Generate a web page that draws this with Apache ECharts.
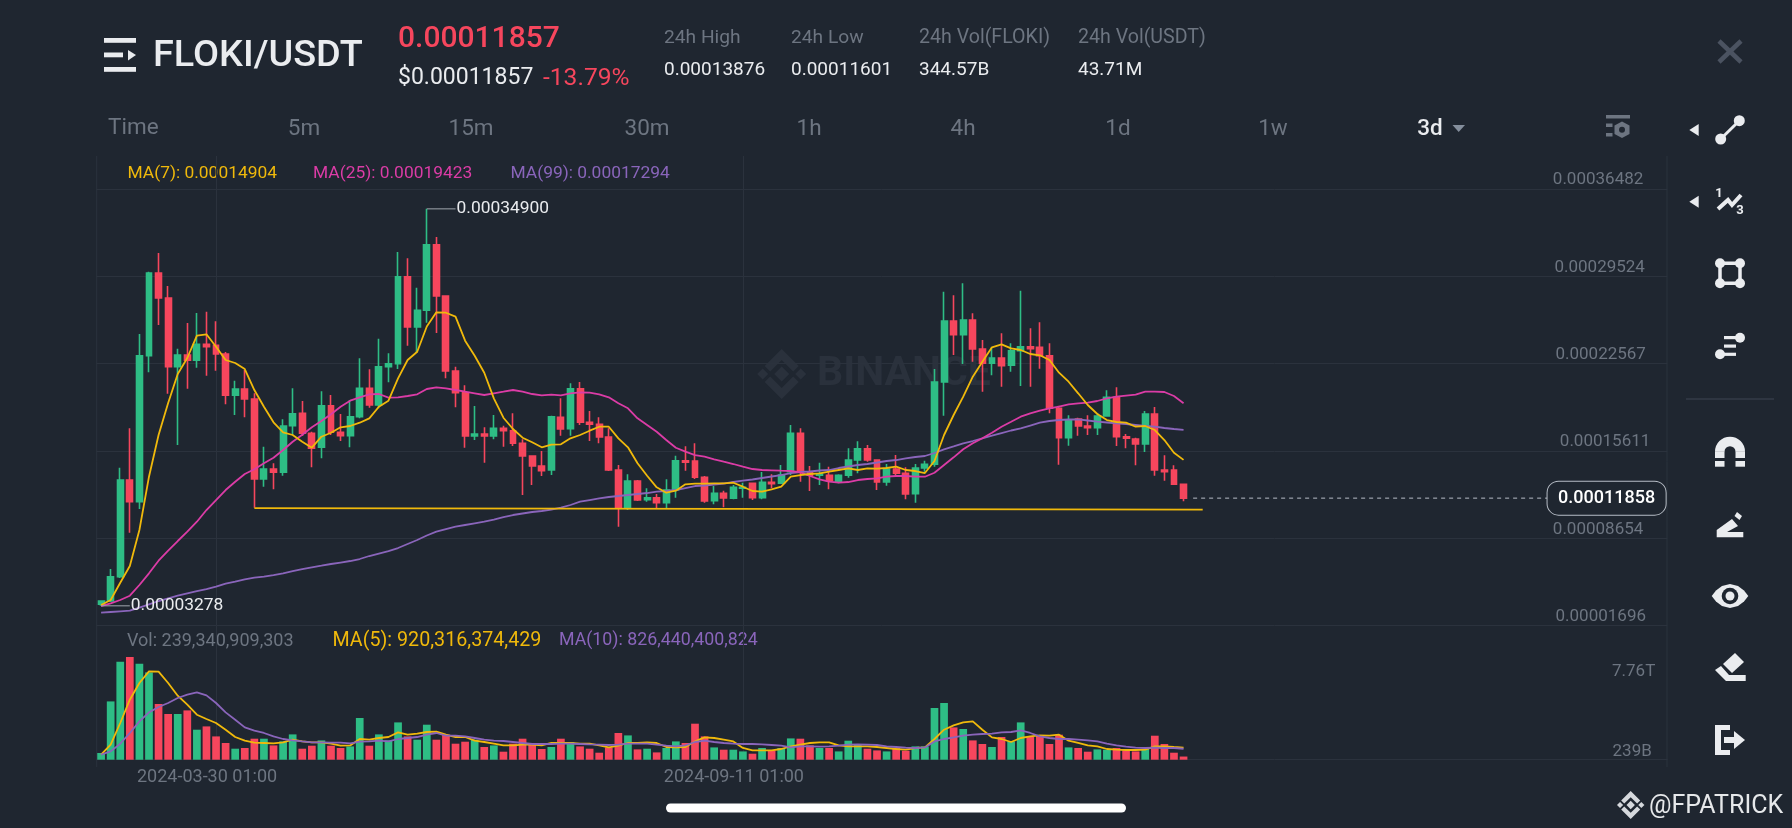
<!DOCTYPE html>
<html><head><meta charset="utf-8"><title>FLOKI/USDT</title>
<style>html,body{margin:0;padding:0;background:#1f2630}#c{width:1792px;height:828px}</style>
<script src="https://cdn.jsdelivr.net/npm/echarts@6/dist/echarts.min.js"></script></head>
<body><div id="c"></div>
<script>
// prices are in units of 1e-8 USDT, volumes in billions
const categories=['2024-02-23','2024-02-26','2024-02-29','2024-03-03','2024-03-06','2024-03-09','2024-03-12','2024-03-15','2024-03-18','2024-03-21','2024-03-24','2024-03-27','2024-03-30','2024-04-02','2024-04-05','2024-04-08','2024-04-11','2024-04-14','2024-04-17','2024-04-20','2024-04-23','2024-04-26','2024-04-29','2024-05-02','2024-05-05','2024-05-08','2024-05-11','2024-05-14','2024-05-17','2024-05-20','2024-05-23','2024-05-26','2024-05-29','2024-06-01','2024-06-04','2024-06-07','2024-06-10','2024-06-13','2024-06-16','2024-06-19','2024-06-22','2024-06-25','2024-06-28','2024-07-01','2024-07-04','2024-07-07','2024-07-10','2024-07-13','2024-07-16','2024-07-19','2024-07-22','2024-07-25','2024-07-28','2024-07-31','2024-08-03','2024-08-06','2024-08-09','2024-08-12','2024-08-15','2024-08-18','2024-08-21','2024-08-24','2024-08-27','2024-08-30','2024-09-02','2024-09-05','2024-09-08','2024-09-11','2024-09-14','2024-09-17','2024-09-20','2024-09-23','2024-09-26','2024-09-29','2024-10-02','2024-10-05','2024-10-08','2024-10-11','2024-10-14','2024-10-17','2024-10-20','2024-10-23','2024-10-26','2024-10-29','2024-11-01','2024-11-04','2024-11-07','2024-11-10','2024-11-13','2024-11-16','2024-11-19','2024-11-22','2024-11-25','2024-11-28','2024-12-01','2024-12-04','2024-12-07','2024-12-10','2024-12-13','2024-12-16','2024-12-19','2024-12-22','2024-12-25','2024-12-28','2024-12-31','2025-01-03','2025-01-06','2025-01-09','2025-01-12','2025-01-15','2025-01-18','2025-01-21','2025-01-24','2025-01-27'];
const opens=[3399,3662,5598,13301,11573,23203,29791,27799,22326,23259,
22836,24110,24031,23338,20048,20550,19754,13381,14178,13914,
17627,18614,17021,15907,19220,17101,16830,18344,20606,19275,
22326,22566,29496,25489,26819,32045,27959,21984,20256,16806,
16965,16806,17419,17229,16225,15213,14416,14098,18296,17388,
20573,17897,17738,16726,14098,11046,13221,11732,11891,11493,
12505,14838,14814,13516,11652,12241,11843,12640,13038,11891,
13118,13038,13962,17021,13962,13675,13675,13165,13675,14894,
15794,14894,13142,14178,13835,12210,14257,14552,21108,25967,
24876,26047,23737,22597,23020,22438,23601,23920,23872,23203,
19013,16671,18160,17603,17467,18399,19889,16750,16567,16169,
18559,14098,14098,12959];
const closes=[3662,5598,13301,11573,23203,29791,27799,22326,23259,22836,
24110,23920,23338,20048,20550,19754,13381,14178,13914,17603,
18583,17021,15827,19220,17101,16830,18344,20606,19275,22326,
22566,29496,25489,26819,32045,27959,21984,20256,16806,16965,
16806,17419,17229,16225,15213,14416,14043,18344,17364,20573,
17897,17738,16726,14098,11046,13221,11708,11891,11493,12505,
14838,14711,13516,11628,12241,11867,12719,12719,11891,13118,
13006,13699,17021,13962,13675,13779,13245,13675,14894,15794,
14894,13142,14178,13835,12186,14257,14552,21108,25967,24876,
26047,23737,22597,23020,22407,23601,23920,23760,23203,19013,
16671,18081,17603,17467,18399,19889,16750,16623,16169,18559,
14098,13962,12959,11858];
const highs=[3700,6212,14281,17419,24931,29894,31384,28755,23761,25808,
26603,26708,25943,23497,21211,22064,20207,15954,14631,18136,
20606,19594,17149,20366,20072,18559,19674,22995,22119,24557,
23394,31464,30962,28620,34900,32659,28000,22326,20845,19196,
17499,18479,17627,18614,16543,15230,15611,18424,19809,21004,
21108,18798,18296,17419,14496,13756,13301,12640,12186,13357,
15238,15990,16225,13620,12823,12449,12903,13086,13038,13938,
13756,14496,17683,17419,14416,14679,14360,13755,15827,16384,
16090,14950,14576,15293,14313,14576,14838,22143,28302,28015,
28969,26580,24453,23872,24987,24190,28381,25386,25863,24190,
19220,18455,18264,18455,18638,20447,20686,16965,16671,18798,
19116,15268,14472,12959];
const lows=[3278,3582,5495,9102,10991,21881,25649,20176,16089,20573,
22247,21610,22008,19331,18479,18296,11095,12768,12560,13644,
16886,16806,14313,15030,16886,16408,15907,18215,19060,19013,
21084,22143,23999,23442,25832,25011,21402,19092,15875,16488,
14679,16543,15954,16010,12106,12903,13620,13699,16830,16830,
17683,16408,16225,14018,9581,10911,11628,11573,11071,11071,
11891,14043,13381,11493,11365,11126,11764,11891,11708,11764,
12640,12982,13699,13165,12425,12903,12560,13038,13484,13835,
14759,12505,12847,13644,11764,11493,13962,14360,18423,23259,
22541,22725,20335,21641,20733,21928,20789,20733,22167,18614,
14519,16034,16830,16886,16886,18344,16010,15827,14472,15532,
13644,13245,12959,11601];
const ma7=[3344,3742,5120,6450,9318,13564,16886,19436,21746,23020,
24796,24908,23920,22860,22621,22143,20471,19140,17898,17101,
16886,16352,15874,16750,17069,17499,17603,17866,18216,19140,
19618,21403,22860,23522,25529,26660,26628,26310,24398,23203,
21849,19809,18264,17364,16672,16304,15906,16113,16145,16623,
16886,17229,17547,17547,16623,15906,14631,13644,12719,12290,
12449,12959,13006,13006,13038,13038,13086,12768,12425,12370,
12560,12768,13564,13699,13779,13835,13962,14098,14233,14098,
14233,14201,14257,14360,14098,14018,13859,14815,16886,18479,
19937,21530,22725,23872,24110,23792,23657,23338,23234,22860,
21849,21132,20208,19275,18559,18081,17922,17866,17547,17603,
17284,16488,15476,14904];
const ma25=[3264,3479,3742,4084,4937,5869,6873,7670,8442,9183,
9980,10911,11708,12505,13166,13779,14154,14631,15078,15691,
16352,16902,17499,18001,18535,19140,19618,19889,20128,20152,
19857,19889,19993,20128,20550,20686,20606,20471,20336,20208,
20073,20208,20336,20471,20336,20152,20048,20096,20048,20208,
20287,20256,20128,19889,19411,19013,18216,17683,17149,16488,
15874,15556,15291,15156,14950,14759,14576,14360,14178,14098,
14074,14042,14018,13914,13619,13356,13166,13086,13142,13301,
13381,13436,13564,13619,13619,13564,13564,13882,14496,15109,
15747,16225,16623,17069,17547,17945,18344,18614,18822,19013,
19140,19331,19411,19459,19595,19809,19937,20017,20096,20336,
20336,20312,19993,19423];
const ma99=[2730,2787,2842,2890,3129,3399,3662,3877,4084,4275,
4458,4618,4801,5040,5199,5390,5518,5598,5733,5869,
6052,6211,6347,6474,6610,6729,6849,7008,7247,7446,
7645,7884,8203,8522,8880,9183,9398,9581,9717,9851,
9980,10155,10354,10513,10633,10752,10832,10951,11095,11310,
11573,11708,11843,11948,12027,12106,12186,12265,12370,12425,
12505,12664,12823,12863,12943,13022,13142,13245,13341,13461,
13580,13699,13859,13938,13978,14058,14098,14257,14377,14496,
14576,14695,14815,14894,15030,15134,15213,15452,15747,15985,
16225,16408,16623,16830,17045,17245,17419,17642,17866,18001,
18081,18121,18136,18041,17945,17882,17816,17762,17683,17603,
17547,17443,17364,17294];
const volumes=[507,4407,7409,7760,7258,6600,4211,3455,3455,3727,
2268,2517,1761,1263,832,885,1588,1588,1081,1383,
1913,832,1058,1459,1058,885,1005,3153,1058,1913,
1459,2820,1761,1512,2646,1512,1890,1210,1361,1512,
960,1081,605,1210,1588,1134,809,960,1588,1338,
1005,832,529,930,2019,1837,779,832,552,885,
1383,1263,2722,1761,930,756,756,627,454,885,
703,885,1610,1588,1081,885,885,627,1436,1134,
832,703,627,885,680,1005,1005,3909,4287,2442,
2321,1459,1187,960,1716,1383,2820,1716,1837,1187,
1890,930,885,605,779,756,885,703,627,809,
1814,1187,529,239.34];
const volMa5=[378,1134,2775,4536,5799,6675,6653,5799,4838,4158,
3402,3077,2775,2268,1716,1436,1285,1263,1232,1308,
1512,1383,1308,1308,1210,1058,1081,1565,1512,1641,
1716,2064,1890,1966,2094,2117,1890,1716,1716,1436,
1338,1210,1081,1081,1134,1134,1081,1263,1263,1263,
1210,1210,1081,930,1058,1263,1263,1308,1263,960,
930,960,1383,1686,1641,1512,1383,885,703,703,
703,809,1005,1134,1263,1308,1308,1081,1005,1005,
1005,960,885,809,756,885,930,1565,2268,2593,
2820,2895,2268,1686,1565,1338,1641,1761,1837,1814,
1890,1436,1263,1081,1005,809,756,733,733,756,
1005,1005,960,920.3];
const volMa10=[378,627,1210,2019,2895,3576,3984,4287,4665,4914,
5088,4861,4287,3576,3024,2442,2192,2019,1761,1565,
1459,1383,1308,1308,1285,1285,1232,1361,1383,1436,
1383,1565,1641,1716,1890,2019,1814,1814,1761,1641,
1512,1436,1414,1338,1263,1187,1187,1187,1210,1210,
1187,1157,1134,1111,1134,1210,1210,1210,1134,1058,
1005,1081,1338,1436,1338,1263,1210,1187,1187,1157,
1111,1058,930,1005,1005,983,1005,1058,1134,1157,
1134,1111,1005,960,907,885,930,1383,1565,1686,
1814,1890,1943,1966,2064,2094,2215,2019,1761,1641,
1565,1565,1512,1459,1383,1210,1081,983,907,885,
907,885,885,826.4];
const priceTicks=[1696,8654,15611,22567,29524,36482];
const volumeTicks=[239.34,7760];
const xTickDates=['2024-03-30','2024-09-11'];
const trendLine=[[16,11060],[115,10950]];
const highLeader=[[34,34900],[37,34900]];
const lowLeader=[[0,3278],[3,3278]];
const lastPriceLine=[[114,11858],[151,11858]];

const BG='#1f2630',GRID='#2b323d',UP='#2ebd85',DN='#f6465d',YEL='#f0b90b',PINK='#db3ca6',PUR='#8a65bb';
const LIGHT='#eaecef',DIM='#6d7581',F='Roboto';
const N_SLOTS=164;
const axisCats=categories.concat(new Array(N_SLOTS-categories.length).fill(''));
const tickIdx=xTickDates.map(d=>categories.indexOf(d));

const T=(x,y,text,size,fill,weight,align)=>({type:'text',silent:true,style:{x,y,text,fontSize:size,fontFamily:F,fontWeight:weight||400,fill,align:align||'left',verticalAlign:'middle'}});
const R=(x,y,w,h,fill,r)=>({type:'rect',silent:true,shape:{x,y,width:w,height:h,r:r||0},style:{fill}});
const L=(x1,y1,x2,y2,stroke,w)=>({type:'line',silent:true,shape:{x1,y1,x2,y2},style:{stroke,lineWidth:w||1}});
const C=(cx,cy,r,fill)=>({type:'circle',silent:true,shape:{cx,cy,r},style:{fill}});
const P=(pts,fill)=>({type:'polygon',silent:true,shape:{points:pts},style:{fill}});
function logo(cx,cy,R0,fill){const s=R0/25;const m=a=>a.map(p=>[cx+p[0]*s,cy+p[1]*s]);
 const d=(x,y,h)=>P(m([[x,y-h],[x+h,y],[x,y+h],[x-h,y]]),fill);
 return [d(0,0,7.5),d(-19,0,5.5),d(19,0,5.5),
  P(m([[0,-25],[17,-8],[11.5,-2.5],[0,-14],[-11.5,-2.5],[-17,-8]]),fill),
  P(m([[0,25],[17,8],[11.5,2.5],[0,14],[-11.5,2.5],[-17,8]]),fill)];}
const tabs=[['5m',304],['15m',471],['30m',647],['1h',809],['4h',963],['1d',1118],['1w',1273]];
const ICON=LIGHT;
const elements=[
 ...logo(781.7,374,25,'#2a313c'),
 {type:'text',silent:true,style:{x:817,y:375,text:'BINANCE',fontSize:41,fontFamily:F,fontWeight:700,fill:'#2a313c',align:'left',verticalAlign:'middle'}},
 L(96.7,156,96.7,767,GRID),L(1667,156,1667,767,GRID),
 // header
 R(104,38,32,4.8,LIGHT),R(104,52.5,19,4.8,LIGHT),R(104,67,32,4.8,LIGHT),P([[128,50],[136,55],[128,60.5]],LIGHT),
 T(153,56.5,'FLOKI/USDT',37.8,LIGHT,500),
 T(398,39.5,'0.00011857',30,DN,500),
 T(398,78.5,'$0.00011857',23,LIGHT,400),
 T(543,78.5,'-13.79%',24.6,DN,400),
 T(664,38.5,'24h High',19.2,DIM),T(664,70,'0.00013876',19,LIGHT),
 T(791,38.5,'24h Low',19.2,DIM),T(791,70,'0.00011601',19,LIGHT),
 T(919,38.5,'24h Vol(FLOKI)',19.6,DIM),T(919,70,'344.57B',19,LIGHT),
 T(1078,38.5,'24h Vol(USDT)',19.6,DIM),T(1078,70,'43.71M',19,LIGHT),
 L(1719,41,1741,62,'#4b5361',4.5),L(1741,41,1719,62,'#4b5361',4.5),
 // period tabs
 T(108,128.5,'Time',22.5,DIM),
 ...tabs.map(t=>T(t[1],129.5,t[0],22.5,DIM,400,'center')),
 T(1430,129.5,'3d',22.5,LIGHT,500,'center'),
 P([[1452.5,125],[1465,125],[1458.7,132]],'#848e9c'),
 R(1606,115,24,3.5,DIM),R(1606,123.5,6.5,3.5,DIM),R(1606,133,6.5,3.5,DIM),
 P([[1622,121.5],[1629.5,125.5],[1629.5,134],[1622,138],[1614.5,134],[1614.5,125.5]],DIM),C(1622,129.7,3,BG),
 // MA legends
 T(127.5,174,'MA(7): 0.00014904',17.4,YEL),
 T(313,174,'MA(25): 0.00019423',17.4,PINK),
 T(510.5,174,'MA(99): 0.00017294',17.4,PUR),
 T(127,641,'Vol: 239,340,909,303',18,DIM),
 T(332.5,641,'MA(5): 920,316,374,429',19.7,YEL),
 T(559,641,'MA(10): 826,440,400,824',17.8,PUR),
 // toolbar
 P([[1689.3,130],[1698.7,124],[1698.7,136]],ICON),
 L(1720.7,139,1739.3,120.7,ICON,3),C(1720.7,139,5.5,ICON),C(1739.3,120.7,5.5,ICON),
 P([[1689.3,201.7],[1698.7,195.7],[1698.7,207.7]],ICON),
 T(1719,194,'1',13,ICON,700,'center'),T(1740,210.7,'3',13,ICON,700,'center'),
 {type:'polyline',silent:true,shape:{points:[[1718,209],[1728,200],[1732,205],[1741,195]]},style:{stroke:ICON,lineWidth:4,fill:'none'}},
 {type:'rect',silent:true,shape:{x:1720,y:263.3,width:20,height:20},style:{fill:'none',stroke:ICON,lineWidth:3.5}},
 C(1720,263.3,5,ICON),C(1740,263.3,5,ICON),C(1720,283.3,5,ICON),C(1740,283.3,5,ICON),
 C(1740,337.7,5,ICON),C(1720,354.3,5,ICON),R(1724,336,16,3.2,ICON),R(1724,344.5,12,3.2,ICON),R(1720,352.7,16,3.2,ICON),
 L(1686,399,1774,399,'#343b47',1.5),
 {type:'sector',silent:true,shape:{cx:1730,cy:451.7,r0:5.5,r:15,startAngle:Math.PI,endAngle:2*Math.PI,clockwise:true},style:{fill:ICON}},
 R(1715,451.5,9.5,6.5,ICON),R(1735.5,451.5,9.5,6.5,ICON),R(1715,461,9.5,5.7,ICON),R(1735.5,461,9.5,5.7,ICON),
 P([[1716.7,537.3],[1716.7,530],[1732,519],[1738,526],[1727,532],[1743.3,532],[1743.3,537.3]],ICON),P([[1737,512],[1742,516],[1739.5,520],[1734.5,516]],ICON),
 P([[1711.7,596],[1716,590.5],[1722,586],[1730,584],[1738,586],[1744,590.5],[1748.3,596],[1744,601.5],[1738,606],[1730,608],[1722,606],[1716,601.5]],ICON),C(1730,596,8.3,BG),C(1730,596,4.5,ICON),
 P([[1735,653],[1744,662],[1732,673],[1723,664]],ICON),P([[1721,666],[1729,675],[1745.7,675],[1745.7,681],[1726,681],[1715,670]],ICON),
 R(1715,725,6,30,ICON),R(1715,725,15,5,ICON),R(1715,750,15,5,ICON),R(1724,737,11,6,ICON),P([[1734,731],[1745,740],[1734,749]],ICON),
 // footer
 ...logo(1630.7,805,14,'#d5d8dc'),
 T(1649,806.5,'@FPATRICK',25,'#e6e8ea',400),
 R(666,803.5,460,9,'#ffffff',4.5)
];
const tickOrder=[1696,8654,15611,22567,29524,36482];
const padByTick=[4.3,7,0,4.4,5.4,7];
const rich={};padByTick.forEach((p,i)=>{rich['p'+i]={color:DIM,fontSize:17,lineHeight:17,fontFamily:F,padding:[0,p,1,0]};});
const volRich={
 hi:{color:DIM,fontSize:17,fontFamily:F,padding:[30,0,0,0]},
 lo:{color:DIM,fontSize:17,fontFamily:F,padding:[0,3.5,9,0]}};
const maLine=(name,data,color,xi,w)=>({name,type:'line',xAxisIndex:xi,yAxisIndex:xi,data,showSymbol:false,symbol:'none',smooth:false,z:4,lineStyle:{color,width:w||1.8}});
const option={
 backgroundColor:BG,animation:false,
 graphic:{elements},
 grid:[{left:96.3,top:156,width:1571,height:469.7},{left:96.3,top:625.7,width:1571,height:134}],
 xAxis:[
  {type:'category',gridIndex:0,data:axisCats,boundaryGap:true,axisLine:{show:false},axisTick:{show:false,alignWithLabel:true},axisLabel:{show:false},
   splitLine:{show:true,alignWithLabel:true,interval:i=>tickIdx.includes(i),lineStyle:{color:GRID,width:1}}},
  {type:'category',gridIndex:1,data:axisCats,boundaryGap:true,axisLine:{show:true,lineStyle:{color:GRID,width:1}},axisTick:{show:false,alignWithLabel:true},
   axisLabel:{show:true,interval:i=>tickIdx.includes(i),formatter:v=>v+' 01:00',color:DIM,fontSize:18,fontFamily:F,margin:9,padding:[0,18,0,0]},
   splitLine:{show:true,alignWithLabel:true,interval:i=>tickIdx.includes(i),lineStyle:{color:GRID,width:1}}}
 ],
 yAxis:[
  {type:'value',gridIndex:0,position:'right',min:1696,max:39111,scale:true,axisLine:{show:false},
   axisTick:{show:false,customValues:priceTicks},
   axisLabel:{inside:true,margin:17,customValues:priceTicks,verticalAlign:'bottom',showMinLabel:true,showMaxLabel:true,hideOverlap:false,
    formatter:v=>{const i=tickOrder.findIndex(t=>Math.abs(t-v)<1);return '{p'+i+'|'+(v*1e-8).toFixed(8)+'}';},rich},
   splitLine:{show:true,lineStyle:{color:GRID,width:1}}},
  {type:'value',gridIndex:1,position:'right',min:0,max:10130,axisLine:{show:false},
   axisTick:{show:false,customValues:volumeTicks},
   axisLabel:{inside:true,margin:12,customValues:volumeTicks,verticalAlign:'middle',hideOverlap:false,
    formatter:v=>v>1000?'{hi|'+(v/1000).toFixed(2)+'T}':'{lo|'+Math.floor(v)+'B}',rich:volRich},
   splitLine:{show:false}}
 ],
 series:[
  {name:'FLOKI/USDT',type:'candlestick',xAxisIndex:0,yAxisIndex:0,barWidth:6.4,z:3,
   data:opens.map((o,i)=>[o,closes[i],lows[i],highs[i]]),
   itemStyle:{color:UP,color0:DN,borderColor:UP,borderColor0:DN,borderWidth:1.6}},
  maLine('MA99',ma99,PUR,0),maLine('MA25',ma25,PINK,0),maLine('MA7',ma7,YEL,0),
  {name:'Support',type:'line',xAxisIndex:0,yAxisIndex:0,data:trendLine,symbol:'none',z:5,lineStyle:{color:YEL,width:1.8}},
  {name:'High',type:'line',xAxisIndex:0,yAxisIndex:0,data:highLeader,symbol:'none',z:5,lineStyle:{color:'#a2a8b0',width:1},
   endLabel:{show:true,formatter:'0.00034900',color:LIGHT,fontSize:17.4,fontFamily:F,distance:1}},
  {name:'Low',type:'line',xAxisIndex:0,yAxisIndex:0,data:lowLeader,symbol:'none',z:5,lineStyle:{color:'#a2a8b0',width:1},
   endLabel:{show:true,formatter:'0.00003278',color:LIGHT,fontSize:17.4,fontFamily:F,distance:1}},
  {name:'Last',type:'line',xAxisIndex:0,yAxisIndex:0,data:lastPriceLine,symbol:'none',z:5,lineStyle:{color:'#b7bdc6',width:1,type:[4,4]},
   endLabel:{show:true,formatter:'0.00011858',color:'#ffffff',fontSize:18,fontWeight:500,fontFamily:F,distance:0,backgroundColor:BG,borderColor:'#b7bdc6',borderWidth:1,borderRadius:11,padding:[7.5,10.5,7.5,10.5]}},
  {name:'Volume',type:'bar',xAxisIndex:1,yAxisIndex:1,barWidth:7.7,z:3,
   data:volumes.map((v,i)=>({value:v,itemStyle:{color:closes[i]>=opens[i]?UP:DN}}))},
  maLine('VolMA5',volMa5,YEL,1),maLine('VolMA10',volMa10,PUR,1)
 ]
};
echarts.init(document.getElementById('c')).setOption(option);
</script></body></html>
